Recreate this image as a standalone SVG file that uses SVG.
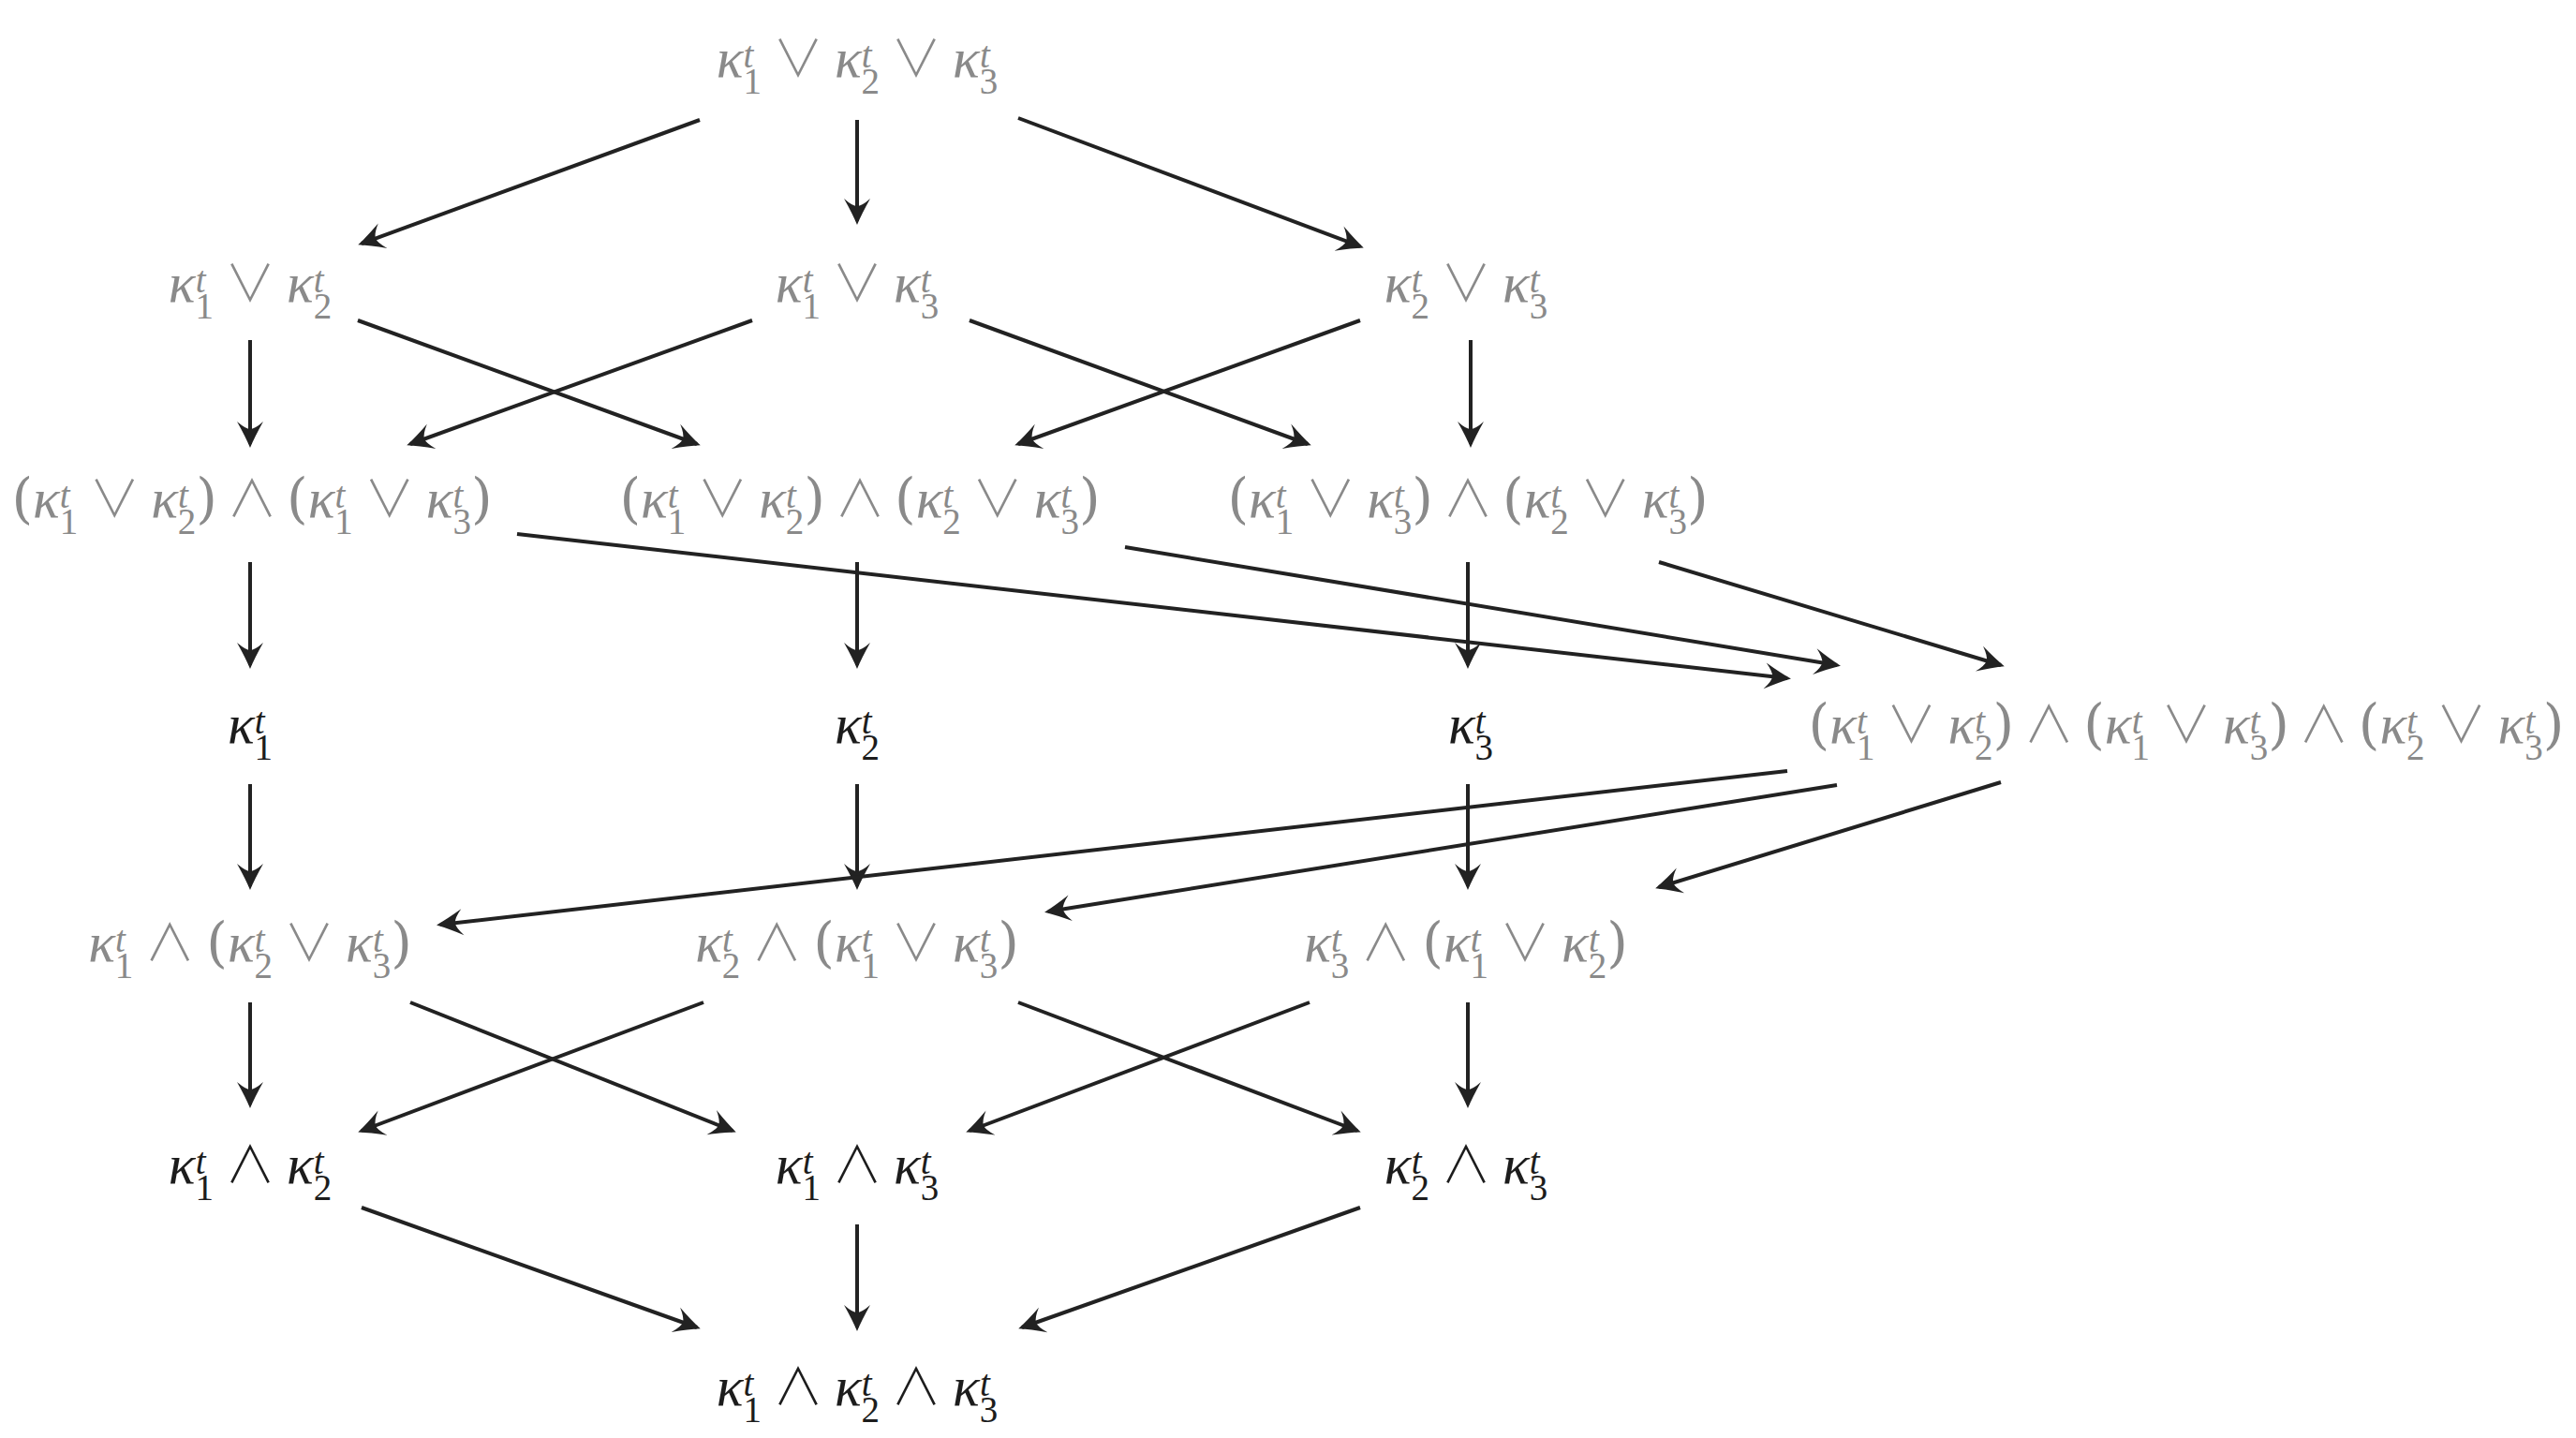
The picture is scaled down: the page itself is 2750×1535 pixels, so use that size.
<svg xmlns="http://www.w3.org/2000/svg" width="2750" height="1535" viewBox="0 0 2750 1535">
<style>
text{font-family:"Liberation Serif","DejaVu Serif",serif;font-size:56px;text-anchor:middle}
.g{fill:#8a8a8a}
.d{fill:#1c1c1c}
.k{font-style:italic;font-size:60px}
.p{font-style:italic;font-size:39px}
.b{font-size:39px}
.o{font-family:"Noto Sans CJK JP","DejaVu Sans",sans-serif;font-weight:300;font-size:54px}
.pr{font-family:"DejaVu Serif",serif;font-weight:300;font-size:58px}
#edges line{stroke:#222;stroke-width:4;fill:none;marker-end:url(#ah)}
</style>
<defs>
<marker id="ah" markerUnits="userSpaceOnUse" viewBox="-32 -16 36 32" markerWidth="36" markerHeight="32" refX="-4" refY="0" orient="auto">
<path d="M0,0 Q-12,-5 -28,-14 Q-20,-5 -20,0 Q-20,5 -28,14 Q-12,5 0,0 Z" fill="#222"/>
</marker>
</defs>
<rect width="2750" height="1535" fill="#fff"/>
<g id="edges">
<line x1="747" y1="128" x2="386" y2="260"/>
<line x1="915" y1="128" x2="915" y2="236"/>
<line x1="1087" y1="126" x2="1452" y2="263"/>
<line x1="267" y1="363" x2="267" y2="474"/>
<line x1="382" y1="342" x2="744" y2="474"/>
<line x1="803" y1="342" x2="438" y2="474"/>
<line x1="1035" y1="342" x2="1396" y2="474"/>
<line x1="1452" y1="342" x2="1087" y2="474"/>
<line x1="1570" y1="363" x2="1570" y2="474"/>
<line x1="267" y1="600" x2="267" y2="710"/>
<line x1="915" y1="600" x2="915" y2="710"/>
<line x1="1567" y1="600" x2="1567" y2="710"/>
<line x1="552" y1="570" x2="1908" y2="724"/>
<line x1="1201" y1="584" x2="1961" y2="710"/>
<line x1="1771" y1="600" x2="2136" y2="710"/>
<line x1="267" y1="837" x2="267" y2="946"/>
<line x1="915" y1="837" x2="915" y2="946"/>
<line x1="1567" y1="837" x2="1567" y2="946"/>
<line x1="1908" y1="823" x2="470" y2="987"/>
<line x1="1961" y1="838" x2="1119" y2="973"/>
<line x1="2136" y1="835" x2="1771" y2="947"/>
<line x1="267" y1="1070" x2="267" y2="1179"/>
<line x1="438" y1="1070" x2="782" y2="1207"/>
<line x1="751" y1="1070" x2="386" y2="1207"/>
<line x1="1087" y1="1070" x2="1449" y2="1207"/>
<line x1="1398" y1="1070" x2="1035" y2="1207"/>
<line x1="1567" y1="1070" x2="1567" y2="1179"/>
<line x1="386" y1="1289" x2="744" y2="1417"/>
<line x1="915" y1="1307" x2="915" y2="1417"/>
<line x1="1452" y1="1289" x2="1091" y2="1417"/>
</g>
<g id="n-or123"><text class="g" x="915" y="82"><tspan class="k">κ</tspan><tspan class="p" dy="-10">t</tspan><tspan class="b" dx="-11" dy="28">1</tspan><tspan class="o" dx="12" dy="-18">∨</tspan><tspan class="k" dx="12">κ</tspan><tspan class="p" dy="-10">t</tspan><tspan class="b" dx="-11" dy="28">2</tspan><tspan class="o" dx="12" dy="-18">∨</tspan><tspan class="k" dx="12">κ</tspan><tspan class="p" dy="-10">t</tspan><tspan class="b" dx="-11" dy="28">3</tspan></text></g>
<g id="n-or12"><text class="g" x="267" y="322"><tspan class="k">κ</tspan><tspan class="p" dy="-10">t</tspan><tspan class="b" dx="-11" dy="28">1</tspan><tspan class="o" dx="12" dy="-18">∨</tspan><tspan class="k" dx="12">κ</tspan><tspan class="p" dy="-10">t</tspan><tspan class="b" dx="-11" dy="28">2</tspan></text></g>
<g id="n-or13"><text class="g" x="915" y="322"><tspan class="k">κ</tspan><tspan class="p" dy="-10">t</tspan><tspan class="b" dx="-11" dy="28">1</tspan><tspan class="o" dx="12" dy="-18">∨</tspan><tspan class="k" dx="12">κ</tspan><tspan class="p" dy="-10">t</tspan><tspan class="b" dx="-11" dy="28">3</tspan></text></g>
<g id="n-or23"><text class="g" x="1565" y="322"><tspan class="k">κ</tspan><tspan class="p" dy="-10">t</tspan><tspan class="b" dx="-11" dy="28">2</tspan><tspan class="o" dx="12" dy="-18">∨</tspan><tspan class="k" dx="12">κ</tspan><tspan class="p" dy="-10">t</tspan><tspan class="b" dx="-11" dy="28">3</tspan></text></g>
<g id="n-a"><text class="g" x="269" y="552"><tspan class="pr">(</tspan><tspan class="k">κ</tspan><tspan class="p" dy="-10">t</tspan><tspan class="b" dx="-11" dy="28">1</tspan><tspan class="o" dx="12" dy="-18">∨</tspan><tspan class="k" dx="12">κ</tspan><tspan class="p" dy="-10">t</tspan><tspan class="b" dx="-11" dy="28">2</tspan><tspan class="pr" dy="-18">)</tspan><tspan class="o" dx="10">∧</tspan><tspan class="pr" dx="10">(</tspan><tspan class="k">κ</tspan><tspan class="p" dy="-10">t</tspan><tspan class="b" dx="-11" dy="28">1</tspan><tspan class="o" dx="12" dy="-18">∨</tspan><tspan class="k" dx="12">κ</tspan><tspan class="p" dy="-10">t</tspan><tspan class="b" dx="-11" dy="28">3</tspan><tspan class="pr" dy="-18">)</tspan></text></g>
<g id="n-b"><text class="g" x="918" y="552"><tspan class="pr">(</tspan><tspan class="k">κ</tspan><tspan class="p" dy="-10">t</tspan><tspan class="b" dx="-11" dy="28">1</tspan><tspan class="o" dx="12" dy="-18">∨</tspan><tspan class="k" dx="12">κ</tspan><tspan class="p" dy="-10">t</tspan><tspan class="b" dx="-11" dy="28">2</tspan><tspan class="pr" dy="-18">)</tspan><tspan class="o" dx="10">∧</tspan><tspan class="pr" dx="10">(</tspan><tspan class="k">κ</tspan><tspan class="p" dy="-10">t</tspan><tspan class="b" dx="-11" dy="28">2</tspan><tspan class="o" dx="12" dy="-18">∨</tspan><tspan class="k" dx="12">κ</tspan><tspan class="p" dy="-10">t</tspan><tspan class="b" dx="-11" dy="28">3</tspan><tspan class="pr" dy="-18">)</tspan></text></g>
<g id="n-c"><text class="g" x="1567" y="552"><tspan class="pr">(</tspan><tspan class="k">κ</tspan><tspan class="p" dy="-10">t</tspan><tspan class="b" dx="-11" dy="28">1</tspan><tspan class="o" dx="12" dy="-18">∨</tspan><tspan class="k" dx="12">κ</tspan><tspan class="p" dy="-10">t</tspan><tspan class="b" dx="-11" dy="28">3</tspan><tspan class="pr" dy="-18">)</tspan><tspan class="o" dx="10">∧</tspan><tspan class="pr" dx="10">(</tspan><tspan class="k">κ</tspan><tspan class="p" dy="-10">t</tspan><tspan class="b" dx="-11" dy="28">2</tspan><tspan class="o" dx="12" dy="-18">∨</tspan><tspan class="k" dx="12">κ</tspan><tspan class="p" dy="-10">t</tspan><tspan class="b" dx="-11" dy="28">3</tspan><tspan class="pr" dy="-18">)</tspan></text></g>
<g id="n-k1"><text class="d" x="267" y="793"><tspan class="k">κ</tspan><tspan class="p" dy="-10">t</tspan><tspan class="b" dx="-11" dy="28">1</tspan></text></g>
<g id="n-k2"><text class="d" x="915" y="793"><tspan class="k">κ</tspan><tspan class="p" dy="-10">t</tspan><tspan class="b" dx="-11" dy="28">2</tspan></text></g>
<g id="n-k3"><text class="d" x="1570" y="793"><tspan class="k">κ</tspan><tspan class="p" dy="-10">t</tspan><tspan class="b" dx="-11" dy="28">3</tspan></text></g>
<g id="n-abc"><text class="g" x="2334" y="793"><tspan class="pr">(</tspan><tspan class="k">κ</tspan><tspan class="p" dy="-10">t</tspan><tspan class="b" dx="-11" dy="28">1</tspan><tspan class="o" dx="12" dy="-18">∨</tspan><tspan class="k" dx="12">κ</tspan><tspan class="p" dy="-10">t</tspan><tspan class="b" dx="-11" dy="28">2</tspan><tspan class="pr" dy="-18">)</tspan><tspan class="o" dx="10">∧</tspan><tspan class="pr" dx="10">(</tspan><tspan class="k">κ</tspan><tspan class="p" dy="-10">t</tspan><tspan class="b" dx="-11" dy="28">1</tspan><tspan class="o" dx="12" dy="-18">∨</tspan><tspan class="k" dx="12">κ</tspan><tspan class="p" dy="-10">t</tspan><tspan class="b" dx="-11" dy="28">3</tspan><tspan class="pr" dy="-18">)</tspan><tspan class="o" dx="10">∧</tspan><tspan class="pr" dx="10">(</tspan><tspan class="k">κ</tspan><tspan class="p" dy="-10">t</tspan><tspan class="b" dx="-11" dy="28">2</tspan><tspan class="o" dx="12" dy="-18">∨</tspan><tspan class="k" dx="12">κ</tspan><tspan class="p" dy="-10">t</tspan><tspan class="b" dx="-11" dy="28">3</tspan><tspan class="pr" dy="-18">)</tspan></text></g>
<g id="n-m1"><text class="g" x="267" y="1026"><tspan class="k">κ</tspan><tspan class="p" dy="-10">t</tspan><tspan class="b" dx="-11" dy="28">1</tspan><tspan class="o" dx="12" dy="-18">∧</tspan><tspan class="pr" dx="12">(</tspan><tspan class="k">κ</tspan><tspan class="p" dy="-10">t</tspan><tspan class="b" dx="-11" dy="28">2</tspan><tspan class="o" dx="12" dy="-18">∨</tspan><tspan class="k" dx="12">κ</tspan><tspan class="p" dy="-10">t</tspan><tspan class="b" dx="-11" dy="28">3</tspan><tspan class="pr" dy="-18">)</tspan></text></g>
<g id="n-m2"><text class="g" x="915" y="1026"><tspan class="k">κ</tspan><tspan class="p" dy="-10">t</tspan><tspan class="b" dx="-11" dy="28">2</tspan><tspan class="o" dx="12" dy="-18">∧</tspan><tspan class="pr" dx="12">(</tspan><tspan class="k">κ</tspan><tspan class="p" dy="-10">t</tspan><tspan class="b" dx="-11" dy="28">1</tspan><tspan class="o" dx="12" dy="-18">∨</tspan><tspan class="k" dx="12">κ</tspan><tspan class="p" dy="-10">t</tspan><tspan class="b" dx="-11" dy="28">3</tspan><tspan class="pr" dy="-18">)</tspan></text></g>
<g id="n-m3"><text class="g" x="1565" y="1026"><tspan class="k">κ</tspan><tspan class="p" dy="-10">t</tspan><tspan class="b" dx="-11" dy="28">3</tspan><tspan class="o" dx="12" dy="-18">∧</tspan><tspan class="pr" dx="12">(</tspan><tspan class="k">κ</tspan><tspan class="p" dy="-10">t</tspan><tspan class="b" dx="-11" dy="28">1</tspan><tspan class="o" dx="12" dy="-18">∨</tspan><tspan class="k" dx="12">κ</tspan><tspan class="p" dy="-10">t</tspan><tspan class="b" dx="-11" dy="28">2</tspan><tspan class="pr" dy="-18">)</tspan></text></g>
<g id="n-and12"><text class="d" x="267" y="1263"><tspan class="k">κ</tspan><tspan class="p" dy="-10">t</tspan><tspan class="b" dx="-11" dy="28">1</tspan><tspan class="o" dx="12" dy="-18">∧</tspan><tspan class="k" dx="12">κ</tspan><tspan class="p" dy="-10">t</tspan><tspan class="b" dx="-11" dy="28">2</tspan></text></g>
<g id="n-and13"><text class="d" x="915" y="1263"><tspan class="k">κ</tspan><tspan class="p" dy="-10">t</tspan><tspan class="b" dx="-11" dy="28">1</tspan><tspan class="o" dx="12" dy="-18">∧</tspan><tspan class="k" dx="12">κ</tspan><tspan class="p" dy="-10">t</tspan><tspan class="b" dx="-11" dy="28">3</tspan></text></g>
<g id="n-and23"><text class="d" x="1565" y="1263"><tspan class="k">κ</tspan><tspan class="p" dy="-10">t</tspan><tspan class="b" dx="-11" dy="28">2</tspan><tspan class="o" dx="12" dy="-18">∧</tspan><tspan class="k" dx="12">κ</tspan><tspan class="p" dy="-10">t</tspan><tspan class="b" dx="-11" dy="28">3</tspan></text></g>
<g id="n-and123"><text class="d" x="915" y="1500"><tspan class="k">κ</tspan><tspan class="p" dy="-10">t</tspan><tspan class="b" dx="-11" dy="28">1</tspan><tspan class="o" dx="12" dy="-18">∧</tspan><tspan class="k" dx="12">κ</tspan><tspan class="p" dy="-10">t</tspan><tspan class="b" dx="-11" dy="28">2</tspan><tspan class="o" dx="12" dy="-18">∧</tspan><tspan class="k" dx="12">κ</tspan><tspan class="p" dy="-10">t</tspan><tspan class="b" dx="-11" dy="28">3</tspan></text></g>
</svg>
